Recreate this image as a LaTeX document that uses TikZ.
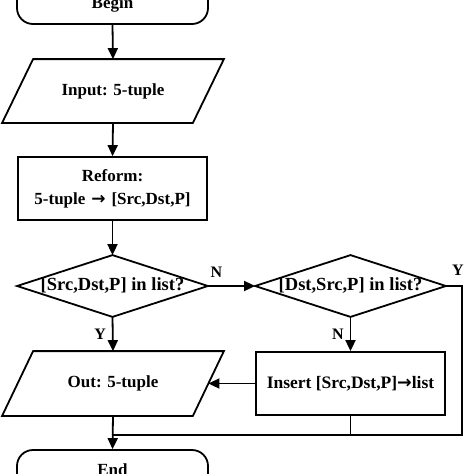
\documentclass[tikz,border=0pt]{standalone}
\usepackage{fontspec}
\setmainfont{Liberation Serif}
\newfontfamily\arrfont{DejaVu Sans}
\usetikzlibrary{arrows.meta}
\newcommand{\rarr}{{\arrfont\bfseries →}}
\begin{document}
\begin{tikzpicture}[x=1pt,y=-1pt,
  line width=1.8pt,
  font=\fontsize{17}{23}\selectfont\bfseries,
  arr/.style={-{Triangle[length=11pt,width=10pt]}},
  terminal/.style={draw, rounded corners=16pt, minimum width=191pt, minimum height=40pt, inner sep=0pt},
  procbox/.style={draw, minimum width=189pt, minimum height=63pt, inner sep=0pt, align=center},
  parabox/.style={minimum width=189pt, minimum height=62pt, inner sep=0pt},
  decbox/.style={minimum width=189pt, minimum height=60pt, inner sep=0pt, font=\fontsize{18.5}{22}\selectfont\bfseries},
  lbl/.style={font=\fontsize{16}{18}\selectfont\bfseries, inner sep=0pt}
]
\useasboundingbox (0,0) rectangle (474,474);

\node[terminal] (begin) at (112.5,4) {Begin};
\node[parabox] (input) at (113,91) {Input: 5-tuple};
\draw ([xshift=15.5pt]input.north west) -- ([xshift=15.5pt]input.north east)
      -- ([xshift=-15.5pt]input.south east) -- ([xshift=-15.5pt]input.south west) -- cycle;
\node[procbox] (reform) at (112.5,188.5) {Reform:\\5-tuple\hspace{0.1em} \rarr\hspace{0.1em} [Src,Dst,P]};
\node[decbox] (d1) at (112.5,286) {[Src,Dst,P] in list?};
\draw (d1.north) -- (d1.east) -- (d1.south) -- (d1.west) -- cycle;
\node[decbox] (d2) at (350.5,286) {[Dst,Src,P] in list?};
\draw (d2.north) -- (d2.east) -- (d2.south) -- (d2.west) -- cycle;
\node[parabox, minimum height=63pt] (out) at (113,383.5) {Out: 5-tuple};
\draw ([xshift=15.5pt]out.north west) -- ([xshift=15.5pt]out.north east)
      -- ([xshift=-15.5pt]out.south east) -- ([xshift=-15.5pt]out.south west) -- cycle;
\node[procbox, font=\fontsize{17.5}{22}\selectfont\bfseries] (insert) at (350.5,383.5) {Insert [Src,Dst,P]\rarr list};
\node[terminal] (end) at (112.5,470) {End};

\coordinate (c1) at (462,286);
\coordinate (c2) at (462,435);
\coordinate (j1) at (113,435);
\coordinate (j2) at (350.5,435);

\draw[arr] (begin.south) -- (input.north);
\draw[arr] (input.south) -- (reform.north);
\draw[arr] (reform.south) -- (d1.north);
\draw[arr] (d1.east) -- node[lbl, above=8pt, pos=0.18] (ln) {N} (d2.west);
\draw[arr] (d1.south) -- node[lbl, left=6pt] (ly) {Y} (out.north);
\draw[arr] (d2.south) -- node[lbl, left=6pt] (ln2) {N} (insert.north);
\draw[arr] (insert.west) -- (out.east);
\draw (d2.east) -- (c1) -- (c2) -- (j1);
\node[lbl] (ly2) at (458,270) {Y};
\draw (insert.south) -- (j2);
\draw[arr] (out.south) -- (end.north);
\end{tikzpicture}
\end{document}
